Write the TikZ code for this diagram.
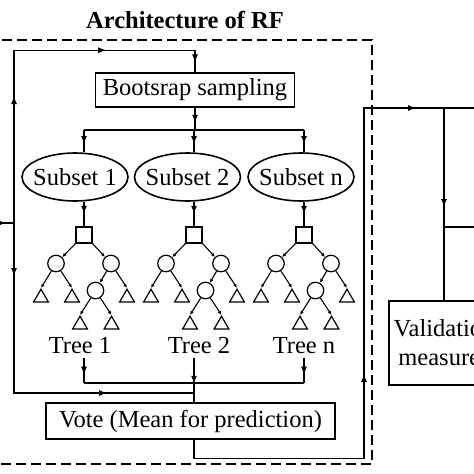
\documentclass[tikz,border=0pt]{standalone}
\usepackage{fontspec}
\setmainfont{Liberation Serif}
\usetikzlibrary{arrows.meta,positioning,shapes.geometric,decorations.markings}

\tikzset{
  flow/.style={line width=1.2pt},
  arrowat/.style={postaction={decorate,decoration={markings,mark=at position #1 with {\arrow{Latex[length=8pt,width=6pt]}}}}},
  stagebox/.style={draw, line width=1.6pt, inner sep=0pt},
  subsetnode/.style={draw, ellipse, line width=1.6pt, minimum width=106pt, minimum height=48pt, inner xsep=-6pt, inner ysep=0pt},
  rootnode/.style={draw, line width=1.2pt, minimum size=16pt, inner sep=0pt},
  splitnode/.style={draw, circle, line width=1.2pt, minimum size=16.5pt, inner sep=0pt},
  leafnode/.style={draw, regular polygon, regular polygon sides=3, line width=1.2pt, minimum size=17pt, inner sep=0pt, anchor=corner 1},
  treearrow/.style={line width=1.1pt, -{Latex[length=4pt,width=3.5pt]}},
}

\begin{document}
\begin{tikzpicture}[x=1pt, y=-1pt, font=\fontsize{24.5}{29}\selectfont]
  \useasboundingbox (0,0) rectangle (474,474);
  \clip (0,0) rectangle (474,474);

  % frame of the forest
  \node[font=\fontsize{24.5}{29}\selectfont\bfseries] (title) at (185,20) {Architecture of RF};
  \draw[line width=2.2pt, dash pattern=on 10pt off 5pt] (-10,40) rectangle (372,464);

  \node[stagebox, minimum width=199pt, minimum height=34pt] (boot) at (195,90) {Bootsrap sampling};
  \node[subsetnode] (sub1) at (75,177) {Subset 1};
  \node[subsetnode] (sub2) at (187.5,177) {Subset 2};
  \node[subsetnode] (subn) at (301,177) {Subset n};

  % the trees
  \foreach \i/\x in {1/84,2/194,n/304} {
    \begin{scope}[shift={(\x,235)}]
      \node[rootnode] (sq\i) at (0,0) {};
      \node[splitnode] (lc\i) at (-28,28.5) {};
      \node[splitnode] (rc\i) at (27,28.5) {};
      \node[splitnode] (sc\i) at (11.5,55.5) {};
      \node[leafnode] (ll\i) at (-43,53) {};
      \node[leafnode] (lr\i) at (-12,53) {};
      \node[leafnode] (rr\i) at (43,53) {};
      \node[leafnode] (sl\i) at (-4,80) {};
      \node[leafnode] (sr\i) at (27.5,80) {};
    \end{scope}
    \draw[treearrow] (sq\i.south west) -- (lc\i);
    \draw[treearrow] (sq\i.south east) -- (rc\i);
    \draw[treearrow] (lc\i) -- (ll\i.corner 1);
    \draw[treearrow] (lc\i) -- (lr\i.corner 1);
    \draw[treearrow] (rc\i) -- (sc\i);
    \draw[treearrow] (rc\i) -- (rr\i.corner 1);
    \draw[treearrow] (sc\i) -- (sl\i.corner 1);
    \draw[treearrow] (sc\i) -- (sr\i.corner 1);
  }

  \node (tree1) at (80,346) {Tree 1};
  \node (tree2) at (199,346) {Tree 2};
  \node (treen) at (304,346) {Tree n};

  \node[stagebox, minimum width=289pt, minimum height=36pt] (vote) at (190.5,421) {Vote (Mean for prediction)};
  \node[stagebox, line width=1.3pt, minimum width=110pt, minimum height=84pt, align=center] (valid) at (444,343) {Validation\\measures};

  \coordinate (in) at (-10,223);
  \coordinate (split) at (14,223);
  \coordinate (fork) at (195,130);
  \coordinate (merge) at (194,383);
  \coordinate (loopin) at (194,393);
  \coordinate (out) at (364,108);
  \coordinate (tap) at (444,108);
  \coordinate (exit) at (480,108);
  \coordinate (sideout) at (480,227);

  % data in, sampling
  \draw[flow, arrowat=16pt] (in) -- (split);
  \draw[flow, arrowat=127pt, arrowat=265pt, arrowat=366pt] (split) |- ([yshift=22pt]boot.north) -- (boot.north);
  \draw[flow, arrowat=53pt, arrowat=263pt] (split) |- (loopin);
  \draw[flow, arrowat=15pt] (boot.south) -- (fork);
  \draw[flow] (fork -| sq1) -- (fork -| sqn);
  \foreach \i in {1,2,n} {
    \draw[flow, arrowat=14pt] (fork -| sq\i) -- (sq\i |- sub\i.north);
    \draw[flow, arrowat=12pt] (sq\i |- sub\i.south) -- (sq\i.north);
  }

  % votes
  \draw[flow, arrowat=17pt] (sq1 |- tree1.south) -- (merge -| sq1);
  \draw[flow, arrowat=17pt] (sqn |- treen.south) -- (merge -| sqn);
  \draw[flow, arrowat=26pt] (merge |- tree2.south) -- (merge |- vote.north);
  \draw[flow] (merge -| sq1) -- (merge -| sqn);

  % to validation
  \draw[flow, arrowat=274pt, arrowat=592pt] (vote.south -| merge) -- ++(0,19) -| (out) -- (exit);
  \draw[flow, arrowat=99pt] (tap) -- (valid.north);
  \draw[flow] (tap |- sideout) -- (sideout);
\end{tikzpicture}
\end{document}
